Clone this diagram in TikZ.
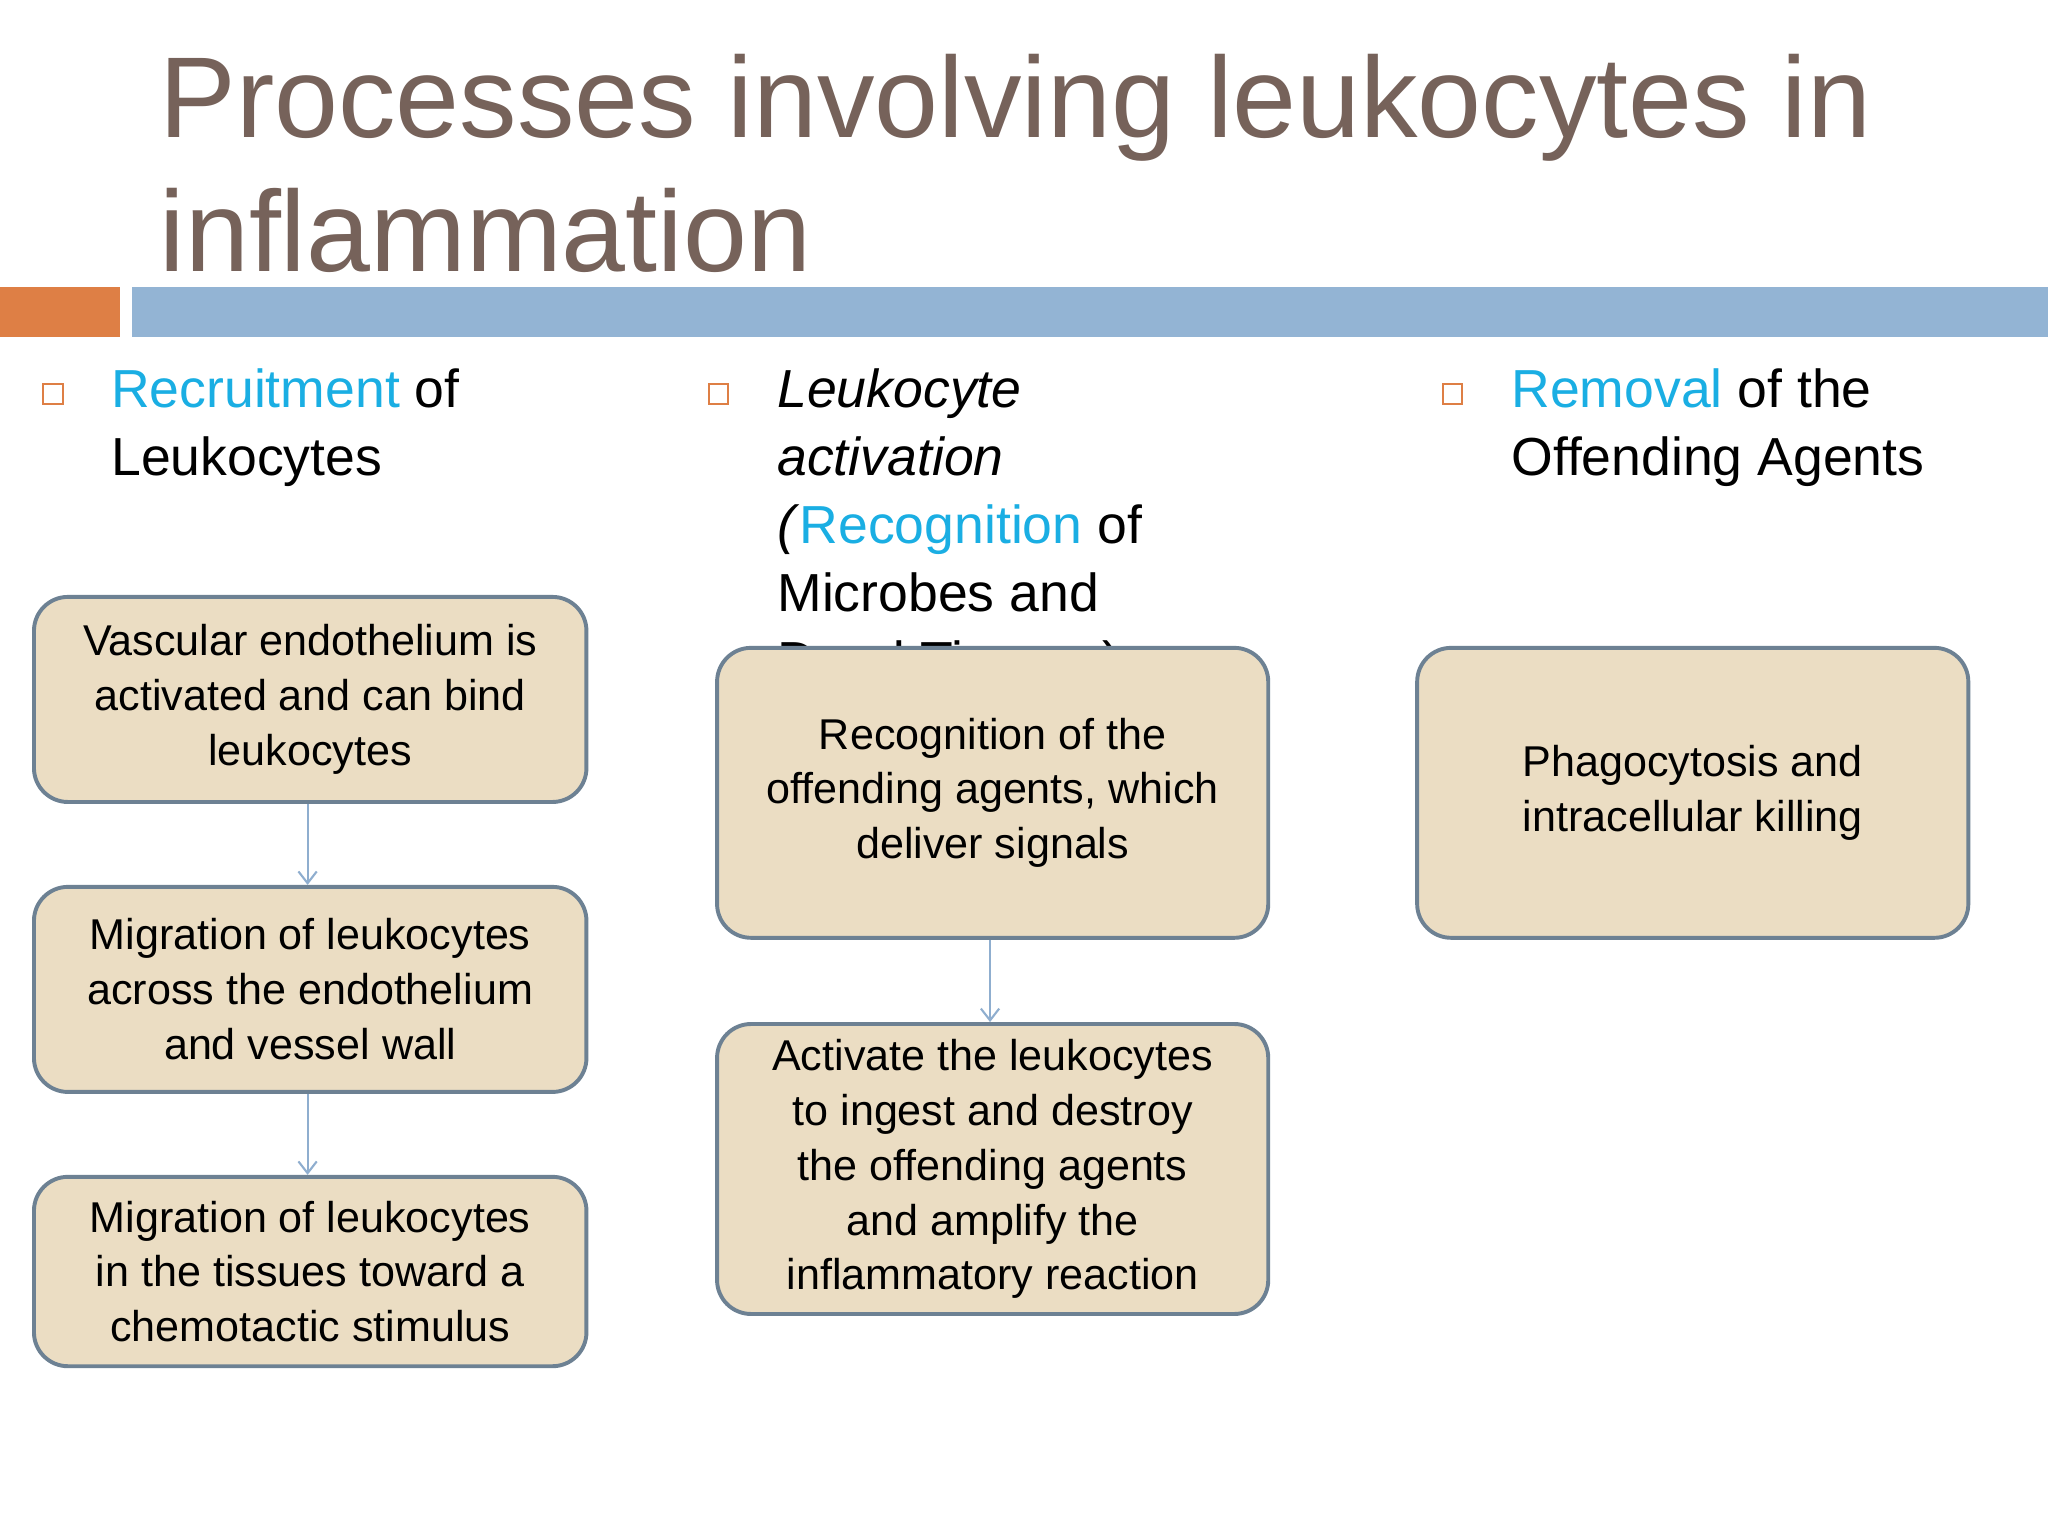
\documentclass[tikz,border=0pt]{standalone}
\usepackage{fontspec}
\usetikzlibrary{arrows.meta}
\setmainfont{Liberation Sans}
\definecolor{titlec}{HTML}{76625A}
\definecolor{orangec}{HTML}{DE7F45}
\definecolor{bluebar}{HTML}{93B4D4}
\definecolor{cyanc}{HTML}{1AAEE3}
\definecolor{boxfill}{HTML}{EBDDC3}
\definecolor{boxline}{HTML}{6D8193}
\definecolor{arrowc}{HTML}{8FAECF}
\begin{document}
\begin{tikzpicture}[x=1pt,y=-1pt,
  box/.style={draw=boxline,line width=3pt,fill=boxfill,rounded corners=26pt,inner sep=0pt,
    align=center,font=\fontsize{33}{42}\selectfont},
  head/.style={anchor=base west,inner sep=0pt,align=left,font=\fontsize{41}{52}\selectfont},
  bullet/.style={draw=orangec,line width=1.6pt,minimum size=15pt,inner sep=0pt},
  conn/.style={draw=arrowc,line width=1.6pt,-{Straight Barb[length=9pt,width=14pt]}}]
\useasboundingbox (0,0) rectangle (1568,1176);
\fill[white] (0,0) rectangle (1568,1176);
% title
\node[anchor=base west,inner sep=0pt,text=titlec,font=\fontsize{88}{103}\selectfont] (t1) at (122,105) {Processes involving leukocytes in};
\node[anchor=base west,inner sep=0pt,text=titlec,font=\fontsize{88}{103}\selectfont] (t2) at (122,208) {inflammation};
\fill[orangec] (0,220) rectangle (92,258);
\fill[bluebar] (101,220) rectangle (1568,258);
% bullets
\node[bullet] (b1) at (40.5,301.5) {};
\node[bullet] (b2) at (550,301.5) {};
\node[bullet] (b3) at (1112,301.5) {};
% headings
\node[head] (h1a) at (85,312) {\textcolor{cyanc}{Recruitment} of};
\node[head] (h1b) at (85,364) {Leukocytes};
\node[head] (h2a) at (595,312) {\itshape Leukocyte};
\node[head] (h2b) at (595,364) {\itshape activation};
\node[head] (h2c) at (595,416) {\textit{(}\textcolor{cyanc}{Recognition} of};
\node[head] (h2d) at (595,468) {Microbes and};
\node[head] (h2e) at (595,520) {Dead Tissues)};
\node[head] (h3a) at (1157,312) {\textcolor{cyanc}{Removal} of the};
\node[head] (h3b) at (1157,364) {Offending Agents};
% boxes
\node[box,minimum width=423pt,minimum height=157pt] (r1) at (237.5,535.5) {Vascular endothelium is\\activated and can bind\\leukocytes};
\node[box,minimum width=423pt,minimum height=157pt] (r2) at (237.5,757.5) {Migration of leukocytes\\across the endothelium\\and vessel wall};
\node[box,minimum width=423pt,minimum height=145pt] (r3) at (237.5,973.5) {Migration of leukocytes\\in the tissues toward a\\chemotactic stimulus};
\node[box,minimum width=422pt,minimum height=222pt] (a1) at (760,607) {Recognition of the\\offending agents, which\\deliver signals};
\node[box,minimum width=422pt,minimum height=222pt] (a2) at (760,895) {Activate the leukocytes\\to ingest and destroy\\the offending agents\\and amplify the\\inflammatory reaction};
\node[box,minimum width=422pt,minimum height=222pt] (k1) at (1296,607) {Phagocytosis and\\intracellular killing};
% connectors
\draw[conn] ([xshift=-2pt]r1.south) -- ([xshift=-2pt]r2.north);
\draw[conn] ([xshift=-2pt]r2.south) -- ([xshift=-2pt]r3.north);
\draw[conn] ([xshift=-2pt]a1.south) -- ([xshift=-2pt]a2.north);
\end{tikzpicture}
\end{document}
